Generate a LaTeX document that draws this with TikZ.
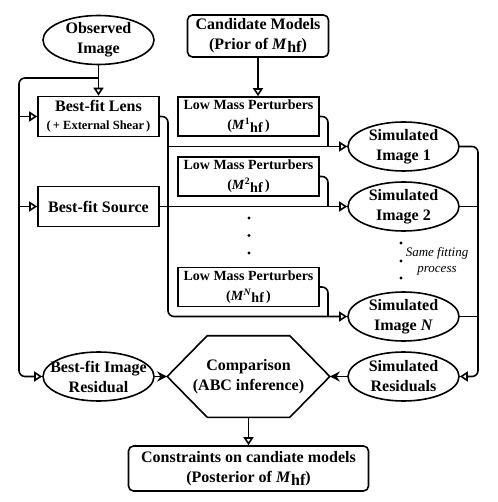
\documentclass[tikz,border=0pt]{standalone}
\usepackage{fontspec}
\setmainfont{Liberation Serif}
\usetikzlibrary{arrows.meta,shapes.geometric,positioning}

\newcommand{\bigtext}{\fontsize{16}{20}\selectfont\bfseries}
\newcommand{\midtext}{\fontsize{14}{20}\selectfont\bfseries}
\newcommand{\Mhf}[1]{\textit{M}\textsuperscript{#1}\raisebox{-0.4ex}{hf}}

\tikzset{
    blob/.style={ellipse, draw, minimum width=111pt, minimum height=49pt, inner xsep=-14pt, inner ysep=-8pt, align=center, font=\bigtext},
    sbox/.style={rectangle, draw, minimum width=121pt, minimum height=40pt, inner sep=0pt, align=center, font=\bigtext},
    pbox/.style={rectangle, draw, minimum width=141pt, minimum height=39pt, inner sep=0pt, align=center, font=\midtext},
    rbox/.style={rectangle, draw, rounded corners=5pt, inner sep=0pt, align=center, font=\bigtext},
    hexa/.style={rectangle, minimum width=161pt, minimum height=80pt, inner sep=0pt, align=center, font=\bigtext},
    hollowtip/.style={-{Triangle[open, length=8pt, width=10pt]}},
    filledtip/.style={-{Stealth[length=10pt, width=10pt]}}
}

\begin{document}
\begin{tikzpicture}[x=1pt, y=-1pt, line width=1.6pt]
        \useasboundingbox (0,0) rectangle (497,502);

        % Inputs
        \node[blob] (obs) at (98.5,40) {Observed\\Image};
        \node[rbox, minimum width=141pt, minimum height=42pt] (cand) at (258,36) {Candidate Models\\(Prior of \Mhf{})};

        % Best-fit models
        \node[sbox] (lens) at (98.5,116.5) {Best-fit Lens\\[-2pt]{\fontsize{12.5}{14}\selectfont (\,+ External Shear\,)}};
        \node[sbox] (src) at (98.5,206.5) {Best-fit Source};

        % Perturber realisations
        \foreach \i/\s/\y in {1/1/116.5, 2/2/176.5, N/\textit{N}/287}
            \node[pbox] (lm\i) at (248.5,\y) {Low Mass Perturbers\\(\Mhf{\s}\,)};

        % Simulated images
        \foreach \i/\s/\y in {1/1/146.5, 2/2/206.5, N/\textit{N}/316.5}
            \node[blob] (sim\i) at (403.5,\y) {Simulated\\Image \s};

        \node[blob] (simres) at (403.5,376.5) {Simulated\\Residuals};
        \node[blob] (bir) at (98.5,376.5) {Best-fit Image\\Residual};
        \node[hexa] (comp) at (248.5,376.5) {Comparison\\(ABC inference)};
        \draw (comp.west) -- ([xshift=40pt]comp.north west) -- ([xshift=-40pt]comp.north east) -- (comp.east)
            -- ([xshift=-40pt]comp.south east) -- ([xshift=40pt]comp.south west) -- cycle;
        \node[rbox, minimum width=240pt, minimum height=45pt] (cons) at (248.5,468.5) {Constraints on candiate models\\(Posterior of \Mhf{})};

        % Dots for the remaining realisations
        \foreach \y in {218,235.5,253}
            \fill (249,\y) circle (1.6pt);
        \foreach \y in {243,261,278}
            \fill (401,\y) circle (1.6pt);
        \node[align=center, font=\fontsize{13}{16}\selectfont\itshape] (note) at (437,261) {Same fitting\\process};

        % Observed image to best-fit models
        \coordinate (split) at (98.5,78);
        \coordinate (bus) at (19,78);
        \draw[hollowtip] (obs) -- (lens);
        \draw[hollowtip, rounded corners=6pt] (split) -- (bus) -- (bus |- bir.west) -- (bir.west);
        \foreach \n in {lens,src}
            \draw[hollowtip] (bus |- \n.west) -- (\n.west);

        \draw[hollowtip] (cand.south) -- (cand.south |- lm1.north);

        % Best-fit models to simulated images
        \coordinate (lensbus) at (168,116.5);
        \draw[hollowtip, rounded corners=6pt] (lens.east) -- (lensbus) -- (lensbus |- simN.west) -- (simN.west);
        \draw[hollowtip] (lensbus |- sim1.west) -- (sim1.west);
        \draw[hollowtip] (src.east) -- (sim2.west);

        % Perturbers join the lines
        \coordinate (pbus) at (328,0);
        \foreach \i in {1,2,N}
            \draw[rounded corners=6pt] (lm\i.east) -- (pbus |- lm\i.east) -- (pbus |- sim\i.west);

        % Simulated images to residuals
        \coordinate (rbus) at (478,146.5);
        \draw[hollowtip, rounded corners=6pt] (sim1.east) -- (rbus) -- (rbus |- simres.east) -- (simres.east);
        \foreach \i in {2,N}
            \draw (sim\i.east) -- (rbus |- sim\i.east);

        % Comparison
        \draw[filledtip] (bir) -- (comp);
        \draw[filledtip] (simres) -- (comp);
        \draw[hollowtip] (comp) -- (cons);
\end{tikzpicture}
\end{document}
